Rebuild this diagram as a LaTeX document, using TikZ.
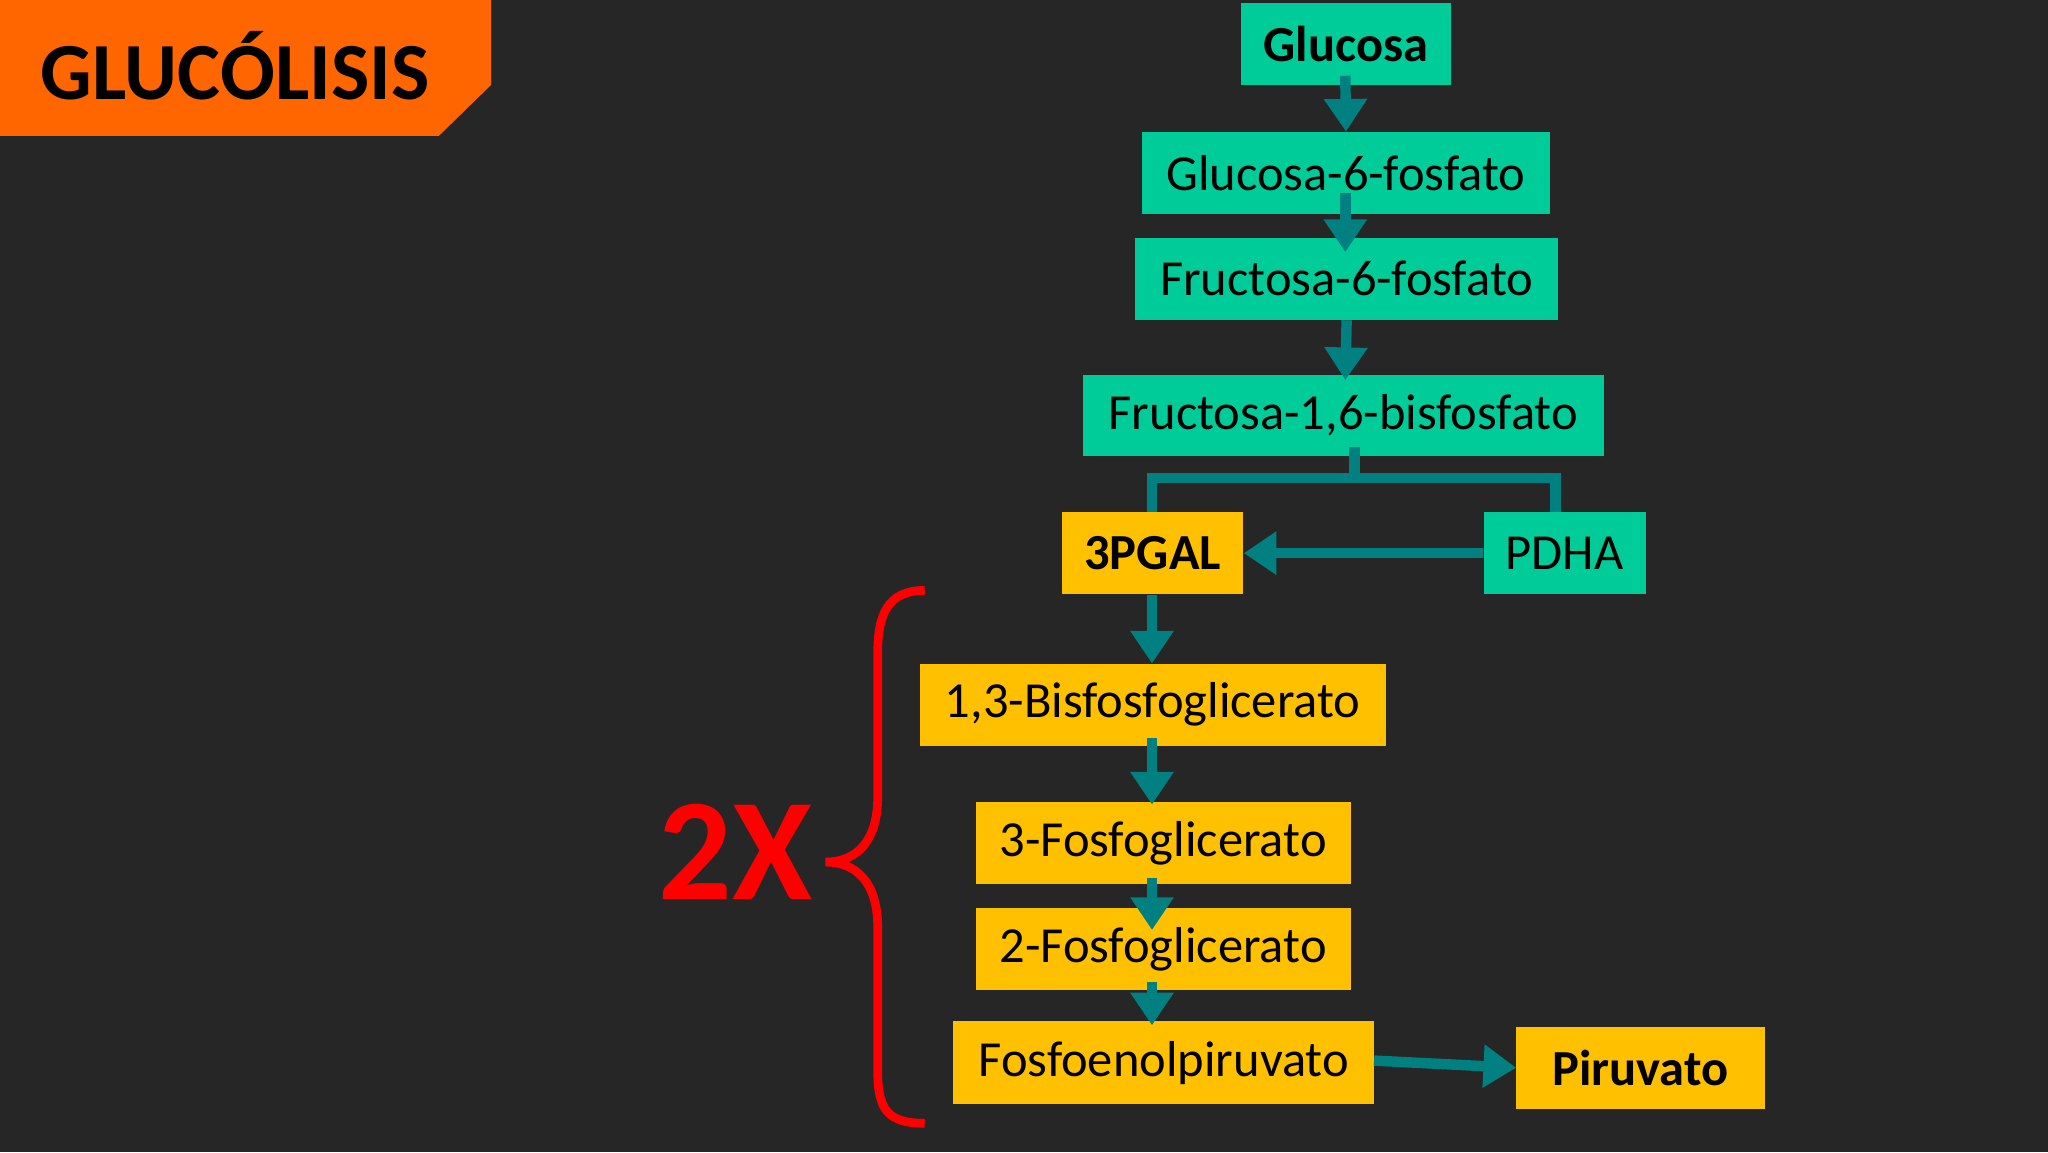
\documentclass[tikz,border=0pt]{standalone}
\usepackage{fontspec}
\setmainfont{Carlito}
\usetikzlibrary{fit,arrows.meta}
\definecolor{bg}{RGB}{38,38,38}
\definecolor{gr}{RGB}{0,204,153}
\definecolor{ye}{RGB}{255,192,0}
\definecolor{tl}{RGB}{0,128,128}
\definecolor{og}{RGB}{255,102,0}
\tikzset{
 bx/.style={inner sep=0pt},
 tx/.style={text=black,font=\fontsize{33}{34}\selectfont},
 tb/.style={text=black,font=\fontsize{33}{34}\selectfont\bfseries},
 gbox/.style={bx,fill=gr},
 ybox/.style={bx,fill=ye},
 ar/.style={tl,line width=0.24cm,-{Triangle[length=0.75cm,width=0.95cm]}},
 ln/.style={tl,line width=0.24cm}
}
\begin{document}
\begin{tikzpicture}[x=0.03cm,y=-0.03cm]
\fill[bg] (0,0) rectangle (1568,882);
\useasboundingbox (0,0) rectangle (1568,882);
\fill[og] (0,0) -- (376,0) -- (376,65) -- (336,104) -- (0,104) -- cycle;
\node[font=\fontsize{53}{54}\selectfont\bfseries,text=black] (title) at (180,50) {GLUCÓLISIS};
\node[gbox,fit={(950,2)(1111,65)},label={[tb]center:Glucosa}] (glu) {};
\node[gbox,fit={(874,101)(1187,164)},label={[tx]center:Glucosa-6-fosfato}] (g6p) {};
\node[gbox,fit={(869,182)(1193,245)},label={[tx]center:Fructosa-6-fosfato}] (f6p) {};
\node[gbox,fit={(829,287)(1228,349)},label={[tx]center:Fructosa-1,6-bisfosfato}] (f16) {};
\node[gbox,fit={(1136,392)(1260,455)},label={[tx]center:PDHA}] (pdha) {};
\node[ybox,fit={(813,392)(952,455)},label={[tb]center:3PGAL}] (pgal) {};
\node[ybox,fit={(704,508)(1061,571)},label={[tx]center:1,3-Bisfosfoglicerato}] (bpg) {};
\node[ybox,fit={(747,614)(1034,677)},label={[tx]center:3-Fosfoglicerato}] (p3) {};
\node[ybox,fit={(747,695)(1034,758)},label={[tx]center:2-Fosfoglicerato}] (p2) {};
\node[ybox,fit={(730,782)(1052,845)},label={[tx]center:Fosfoenolpiruvato}] (pep) {};
\node[ybox,fit={(1161,786)(1351,849)},label={[tb]center:Piruvato}] (pir) {};
\draw[ar] (1030,58) -- (glu.south |- g6p.north) ;
\draw[ar] (1030,148) -- (1030,193);
\draw[ar] (f6p.south) -- (1030,291);
\draw[ln] (1037,342) -- (1037,366);
\draw[ln] (882,392) -- (882,366) -- (1191,366) -- (1191,392);
\draw[ar] (pdha.west) -- (pgal.east);
\draw[ar] (pgal.south -| 882,0) -- (882,508);
\draw[ar] (882,565) -- (882,616);
\draw[ar] (882,672) -- (882,712);
\draw[ar] (882,752) -- (882,785);
\draw[ar] (1052,812) -- (pir.west);
\coordinate (bt) at (708,452);
\coordinate (bb) at (708,860);
\draw[red,line width=0.2cm] (bt) .. controls (680,452) and (672,470) .. (672,500)
  -- (672,610) .. controls (672,645) and (655,660) .. (632,660)
  .. controls (655,660) and (672,675) .. (672,710)
  -- (672,820) .. controls (672,850) and (680,860) .. (bb);
\node[text=red,font=\fontsize{95}{96}\selectfont\bfseries] (two) at (563,652) {2X};
\end{tikzpicture}
\end{document}
